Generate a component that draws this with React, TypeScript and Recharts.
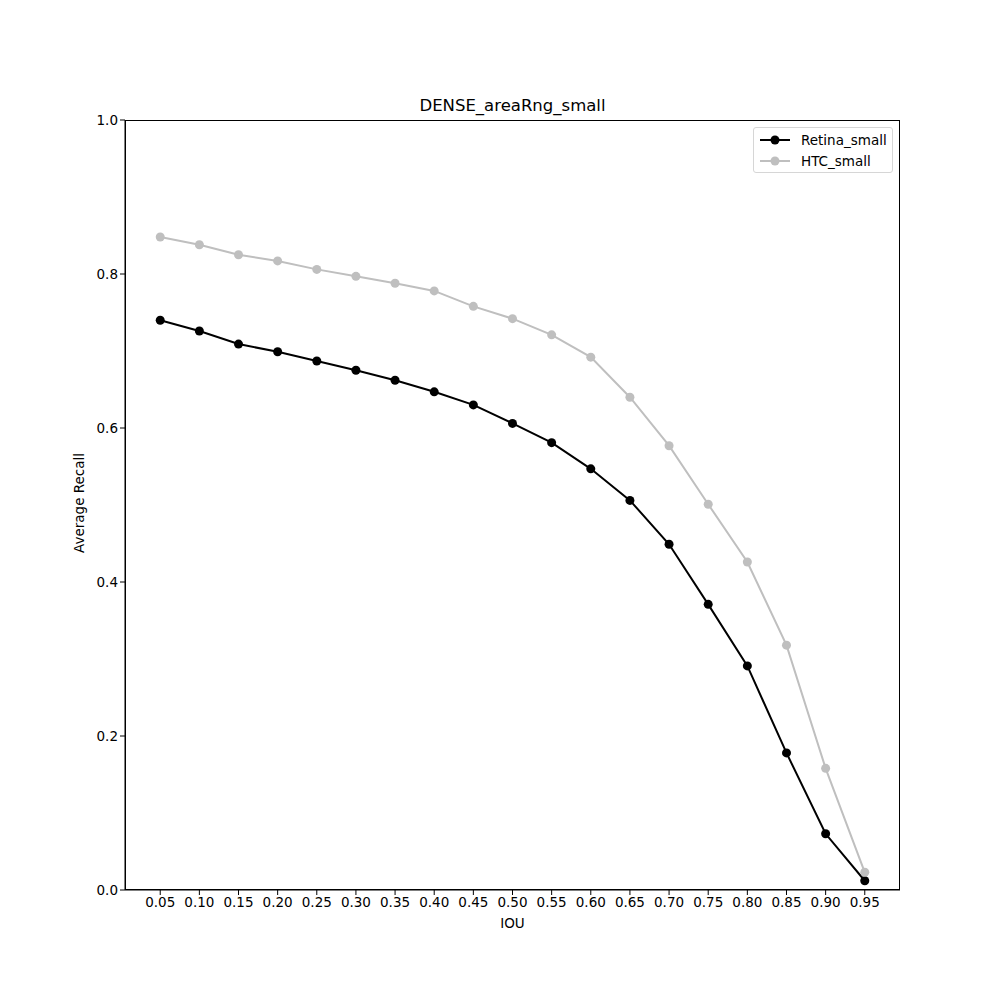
import React from 'react';
import { LineChart, Line, XAxis, YAxis } from 'recharts';

const iouValues = [0.05, 0.1, 0.15, 0.2, 0.25, 0.3, 0.35, 0.4, 0.45, 0.5, 0.55, 0.6, 0.65, 0.7, 0.75, 0.8, 0.85, 0.9, 0.95];
const retinaSmall = [0.740, 0.726, 0.709, 0.699, 0.687, 0.675, 0.662, 0.647, 0.630, 0.606, 0.581, 0.547, 0.506, 0.449, 0.371, 0.291, 0.178, 0.073, 0.012];
const htcSmall = [0.848, 0.838, 0.825, 0.817, 0.806, 0.797, 0.788, 0.778, 0.758, 0.742, 0.721, 0.692, 0.640, 0.577, 0.501, 0.426, 0.318, 0.158, 0.023];
const yTicks = [0, 0.2, 0.4, 0.6, 0.8, 1.0];

const FONT = '"DejaVu Sans", sans-serif';
const TICK = { fill: '#000', fontSize: 13.5, fontFamily: FONT };

const data = iouValues.map((iou, i) => ({
  iou,
  retina: retinaSmall[i],
  htc: htcSmall[i],
}));

const series = [
  { key: 'retina', name: 'Retina_small', color: '#000000' },
  { key: 'htc', name: 'HTC_small', color: '#bfbfbf' },
];

export default function App() {
  return (
    <div style={{ position: 'absolute', left: 0, top: 0, width: 1000, height: 1000, background: '#fff', fontFamily: FONT }}>
      <div style={{ position: 'absolute', left: 125, width: 775, top: 96, textAlign: 'center', fontSize: 16.5 }}>
        DENSE_areaRng_small
      </div>
      <LineChart width={1000} height={1000} data={data} margin={{ top: 120, right: 100, bottom: 70, left: 65 }}>
        <XAxis
          dataKey="iou"
          type="number"
          domain={[0.005, 0.995]}
          ticks={iouValues}
          tickFormatter={(v: number) => v.toFixed(2)}
          tick={TICK}
          tickLine={{ stroke: '#000' }}
          tickSize={5}
          axisLine={{ stroke: '#000' }}
          height={40}
          interval={0}
          label={{ value: 'IOU', position: 'insideBottom', offset: 0, dy: -2, fill: '#000', fontSize: 13.5, fontFamily: FONT }}
        />
        <YAxis
          type="number"
          domain={[0, 1]}
          ticks={yTicks}
          tickFormatter={(v: number) => v.toFixed(1)}
          tick={TICK}
          tickLine={{ stroke: '#000' }}
          tickSize={5}
          axisLine={{ stroke: '#000' }}
          width={60}
          label={{ value: 'Average Recall', angle: -90, position: 'insideLeft', offset: 14, dy: 48, fill: '#000', fontSize: 13.5, fontFamily: FONT }}
        />
        {series.map(s => (
          <Line
            key={s.key}
            dataKey={s.key}
            name={s.name}
            stroke={s.color}
            strokeWidth={2}
            dot={{ r: 4.5, fill: s.color, stroke: s.color, strokeWidth: 0 }}
            isAnimationActive={false}
          />
        ))}
      </LineChart>
      {/* frame around the plot area */}
      <div style={{ position: 'absolute', left: 125, top: 120, width: 775, height: 770, boxSizing: 'border-box', border: '1px solid #000', pointerEvents: 'none' }} />
      <div style={{ position: 'absolute', left: 753, top: 127, width: 138, height: 44, border: '1px solid #d6d6d6', borderRadius: 3, background: '#fff' }}>
        {series.map((s, i) => (
          <div key={s.key} style={{ position: 'absolute', left: 5, top: 3 + i * 21, height: 18, display: 'flex', alignItems: 'center' }}>
            <svg width={32} height={12}>
              <line x1={1} y1={6} x2={31} y2={6} stroke={s.color} strokeWidth={2} />
              <circle cx={16} cy={6} r={4.5} fill={s.color} />
            </svg>
            <span style={{ marginLeft: 10, fontSize: 13.5 }}>{s.name}</span>
          </div>
        ))}
      </div>
    </div>
  );
}
